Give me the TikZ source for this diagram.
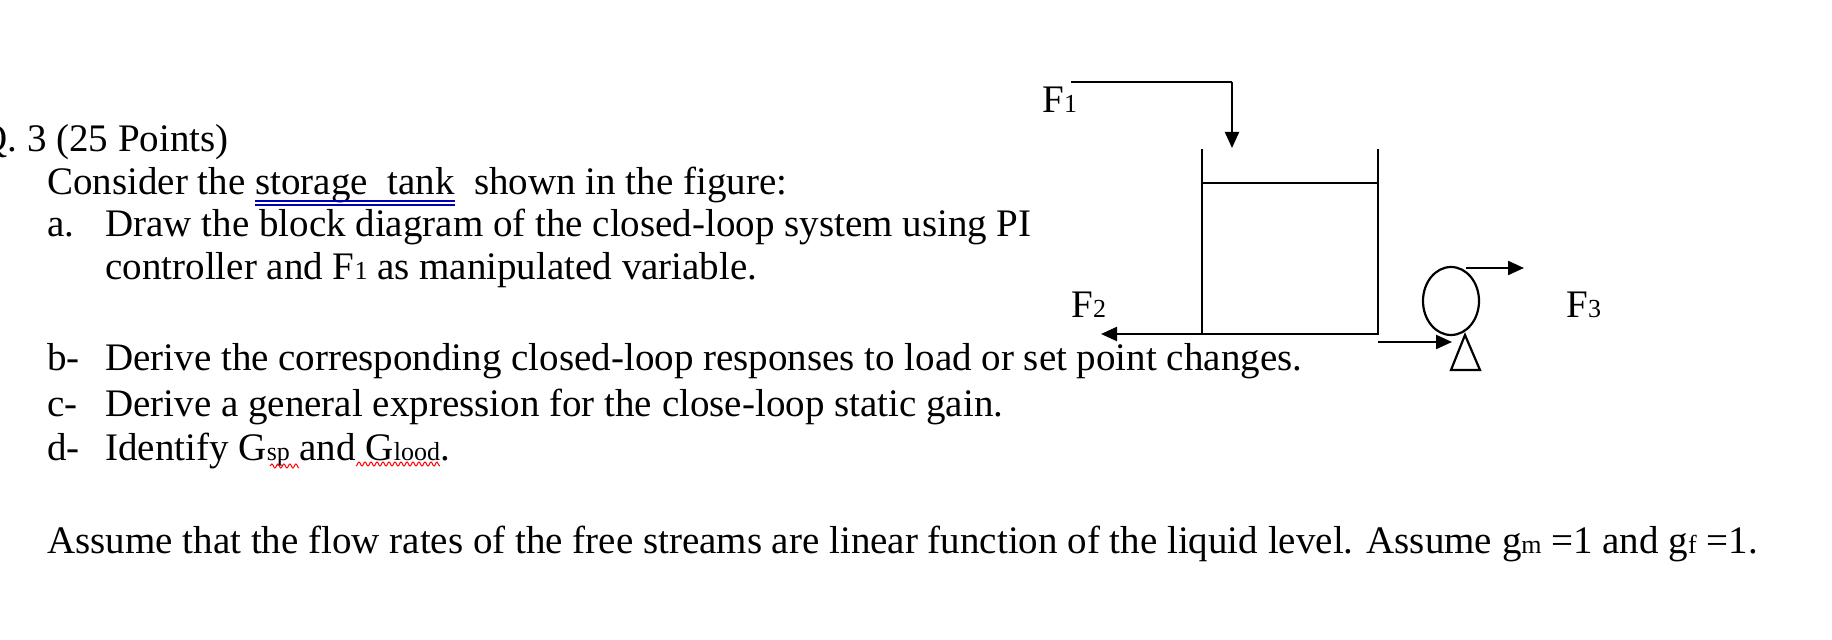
\documentclass[tikz,border=0pt]{standalone}
\usepackage{fontspec}
\setmainfont{Liberation Serif}
\usetikzlibrary{decorations.pathmorphing,arrows.meta,shapes.geometric}
\newcommand{\lsub}[1]{{\fontsize{13}{13}\selectfont #1}}
\begin{document}
\begin{tikzpicture}[x=0.5pt,y=-0.5pt,
  txt/.style={anchor=base west,inner sep=0pt,font=\fontsize{19.5}{22}\selectfont},
  ln/.style={line width=1.1pt},
  arr/.style={ln,-{Triangle[length=8pt,width=7pt]}}]
\useasboundingbox (0,0) rectangle (1832,640);
\clip (0,0) rectangle (1832,640);
\node[txt] (q) at (-21,152) {Q. 3 (25 Points)};
\node[txt] (c) at (47,195) {Consider the storage\ \ tank\ \ shown in the figure:};
\node[txt] (a) at (47,237) {a.};
\node[txt] (a1) at (105,237) {Draw the block diagram of the closed-loop system using PI};
\node[txt] (a2) at (105,280) {controller and F\lsub{1} as manipulated variable.};
\node[txt] (b) at (47,371) {b-};
\node[txt] (b1) at (105,371) {Derive the corresponding closed-loop responses to load or set point changes.};
\node[txt] (cc) at (47,417) {c-};
\node[txt] (c1) at (105,417) {Derive a general expression for the close-loop static gain.};
\node[txt] (d) at (47,461) {d-};
\node[txt] (d1) at (105,461) {Identify G\lsub{sp} and G\lsub{lood}.};
\node[txt] (e) at (47,554) {Assume that the flow rates of the free streams are linear function of the liquid level. Assume g\lsub{m} =1 and g\lsub{f} =1.};
% underlines
\draw[blue!70!black,line width=0.6pt] (255,201) -- (455,201) (255,205) -- (455,205);
\draw[red,line width=0.5pt,decorate,decoration={snake,amplitude=1pt,segment length=3pt}] (270,466) -- (298,466) (356,466) -- (440,466);
% diagram
\node[txt] (f1) at (1042,113) {F\lsub{1}};
\node[txt] (f2) at (1071,318) {F\lsub{2}};
\node[txt] (f3) at (1566,318) {F\lsub{3}};
\coordinate (f1e) at (1071,82);
\coordinate (f1c) at (1232,82);
\coordinate (f1t) at (1232,148);
\draw[ln] (f1e) -- (f1c);
\draw[arr] (f1c) -- (f1t);
\draw[ln] (1202,149) -- (1202,334) -- (1378,334) -- (1378,149);
\draw[ln] (1202,183) -- (1378,183);
\coordinate (tl) at (1202,334);
\coordinate (f2t) at (1101,334);
\draw[arr] (tl) -- (f2t);
\coordinate (os) at (1378,342);
\coordinate (oe) at (1452,342);
\draw[arr] (os) -- (oe);
\node[draw,ellipse,line width=1.1pt,minimum width=28pt,minimum height=34pt,inner sep=0pt] (pump) at (1451,301) {};
\draw[ln] (1465,335) -- (1451,370) -- (1480,370) -- cycle;
\coordinate (ps) at (1466,268);
\coordinate (pe) at (1524,268);
\draw[arr] (ps) -- (pe);
\end{tikzpicture}
\end{document}
